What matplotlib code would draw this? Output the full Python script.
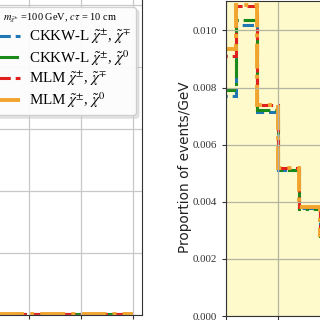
import matplotlib

matplotlib.use("Agg")
import matplotlib.pyplot as plt
import numpy as np

plt.rcParams["font.family"] = ["Liberation Serif", "DejaVu Serif"]
plt.rcParams["mathtext.fontset"] = "stix"

# right panel: normalised distribution (proportion of events / GeV)
edges = np.array([-10, 10, 30, 50, 70, 90, 110, 130])
ckkw_pm_mp = [0.0077, 0.0102, 0.00715, 0.0051, 0.00378, 0.0028, 0.0028]
ckkw_pm_0 = [0.0079, 0.01037, 0.0072, 0.0051, 0.00375, 0.0028, 0.0028]
mlm_pm_mp = [0.0091, 0.01087, 0.0074, 0.00517, 0.0038, 0.0028, 0.0028]
mlm_pm_0 = [0.00935, 0.0109, 0.00739, 0.00517, 0.00383, 0.00284, 0.00284]

# left panel: tail of a distribution, everything sits at ~0 here
left_edges = np.array([160, 180, 200, 220, 240, 260, 280, 300])
left_ckkw_pm_mp = [0.003, 0.003, 0.003, 0.003, 0.003, 0.003, 0.003]
left_ckkw_pm_0 = [0.003, 0.003, 0.003, 0.003, 0.003, 0.003, 0.003]
left_mlm_pm_mp = [0.003, 0.003, 0.003, 0.003, 0.003, 0.003, 0.003]
left_mlm_pm_0 = [0.003, 0.003, 0.003, 0.003, 0.003, 0.003, 0.003]

labels = [
    r"CKKW-L $\tilde{\chi}^{\pm}$, $\tilde{\chi}^{\mp}$",
    r"CKKW-L $\tilde{\chi}^{\pm}$, $\tilde{\chi}^{0}$",
    r"MLM $\tilde{\chi}^{\pm}$, $\tilde{\chi}^{\mp}$",
    r"MLM $\tilde{\chi}^{\pm}$, $\tilde{\chi}^{0}$",
]
colors = ["#1f77b4", "#1a8a1a", "#e0201c", "#f2a52e"]
styles = ["--", "-.", "--", "-."]
widths = [2.2, 2.2, 2.2, 2.8]

W = 320.0
fig = plt.figure(figsize=(3.2, 3.2), dpi=100)

# panels are cut by the figure border on purpose (crop of a wider figure)
ax_l = fig.add_axes([-179 / W, 5 / W, 321 / W, 325.5 / W])
ax_r = fig.add_axes([226 / W, 4 / W, 500 / W, 315 / W])

left_series = [left_ckkw_pm_mp, left_ckkw_pm_0, left_mlm_pm_mp, left_mlm_pm_0]
for vals, c, ls, lw, lab in zip(left_series, colors, styles, widths, labels):
    ax_l.stairs(vals, left_edges, baseline=None, color=c, ls=ls, lw=lw, label=lab)

ax_l.set_xlim(0, 308.7)
ax_l.set_ylim(0, 1.05)
ax_l.set_xticks([0, 50, 100, 150, 200, 250, 300])
ax_l.set_yticks([0, 0.2, 0.4, 0.6, 0.8, 1.0])
ax_l.grid(True, color="#c8c8c8", lw=0.9)
# tick labels of the left panel fall outside the cropped view
ax_l.tick_params(direction="out", length=3, colors="#333333",
                 labelbottom=False, labelleft=False)

right_series = [ckkw_pm_mp, ckkw_pm_0, mlm_pm_mp, mlm_pm_0]
for vals, c, ls, lw in zip(right_series, colors, styles, widths):
    ax_r.stairs(vals, edges, baseline=None, color=c, ls=ls, lw=lw)

ax_r.set_facecolor("#fffacc")
ax_r.set_xlim(0, 480)
ax_r.set_ylim(0, 0.01103)
ax_r.set_xticks([0, 50, 100, 150, 200])
ax_r.set_yticks([0, 0.002, 0.004, 0.006, 0.008, 0.010])
ax_r.set_yticklabels(["0.000", "0.002", "0.004", "0.006", "0.008", "0.010"])
ax_r.grid(True, color="#b4b4a0", lw=0.9)
ax_r.tick_params(direction="out", length=3, colors="#333333", labelsize=7.9,
                 labelbottom=False)
for ax in (ax_l, ax_r):
    for sp in ax.spines.values():
        sp.set_color("#333333")

fig.text(
    185 / W,
    1 - 167 / W,
    "Proportion of events/GeV",
    rotation=90,
    ha="center",
    va="center",
    fontsize=9.8,
    family="DejaVu Sans",
    color="#222222",
)

leg = ax_l.legend(
    loc="upper right",
    bbox_to_anchor=(136 / W, 1 - 7 / W),
    bbox_transform=fig.transFigure,
    borderaxespad=0,
    title=r"$m_{\tilde{\chi}^{\pm}}$ =100 GeV, $c\tau$ = 10 cm",
    title_fontsize=7.5,
    fontsize=10.8,
    framealpha=0.9,
    shadow={"color": "0.8"},
    labelspacing=0.15,
    handletextpad=0.6,
    borderpad=0.35,
)

fig.savefig("out.png", dpi=100)
